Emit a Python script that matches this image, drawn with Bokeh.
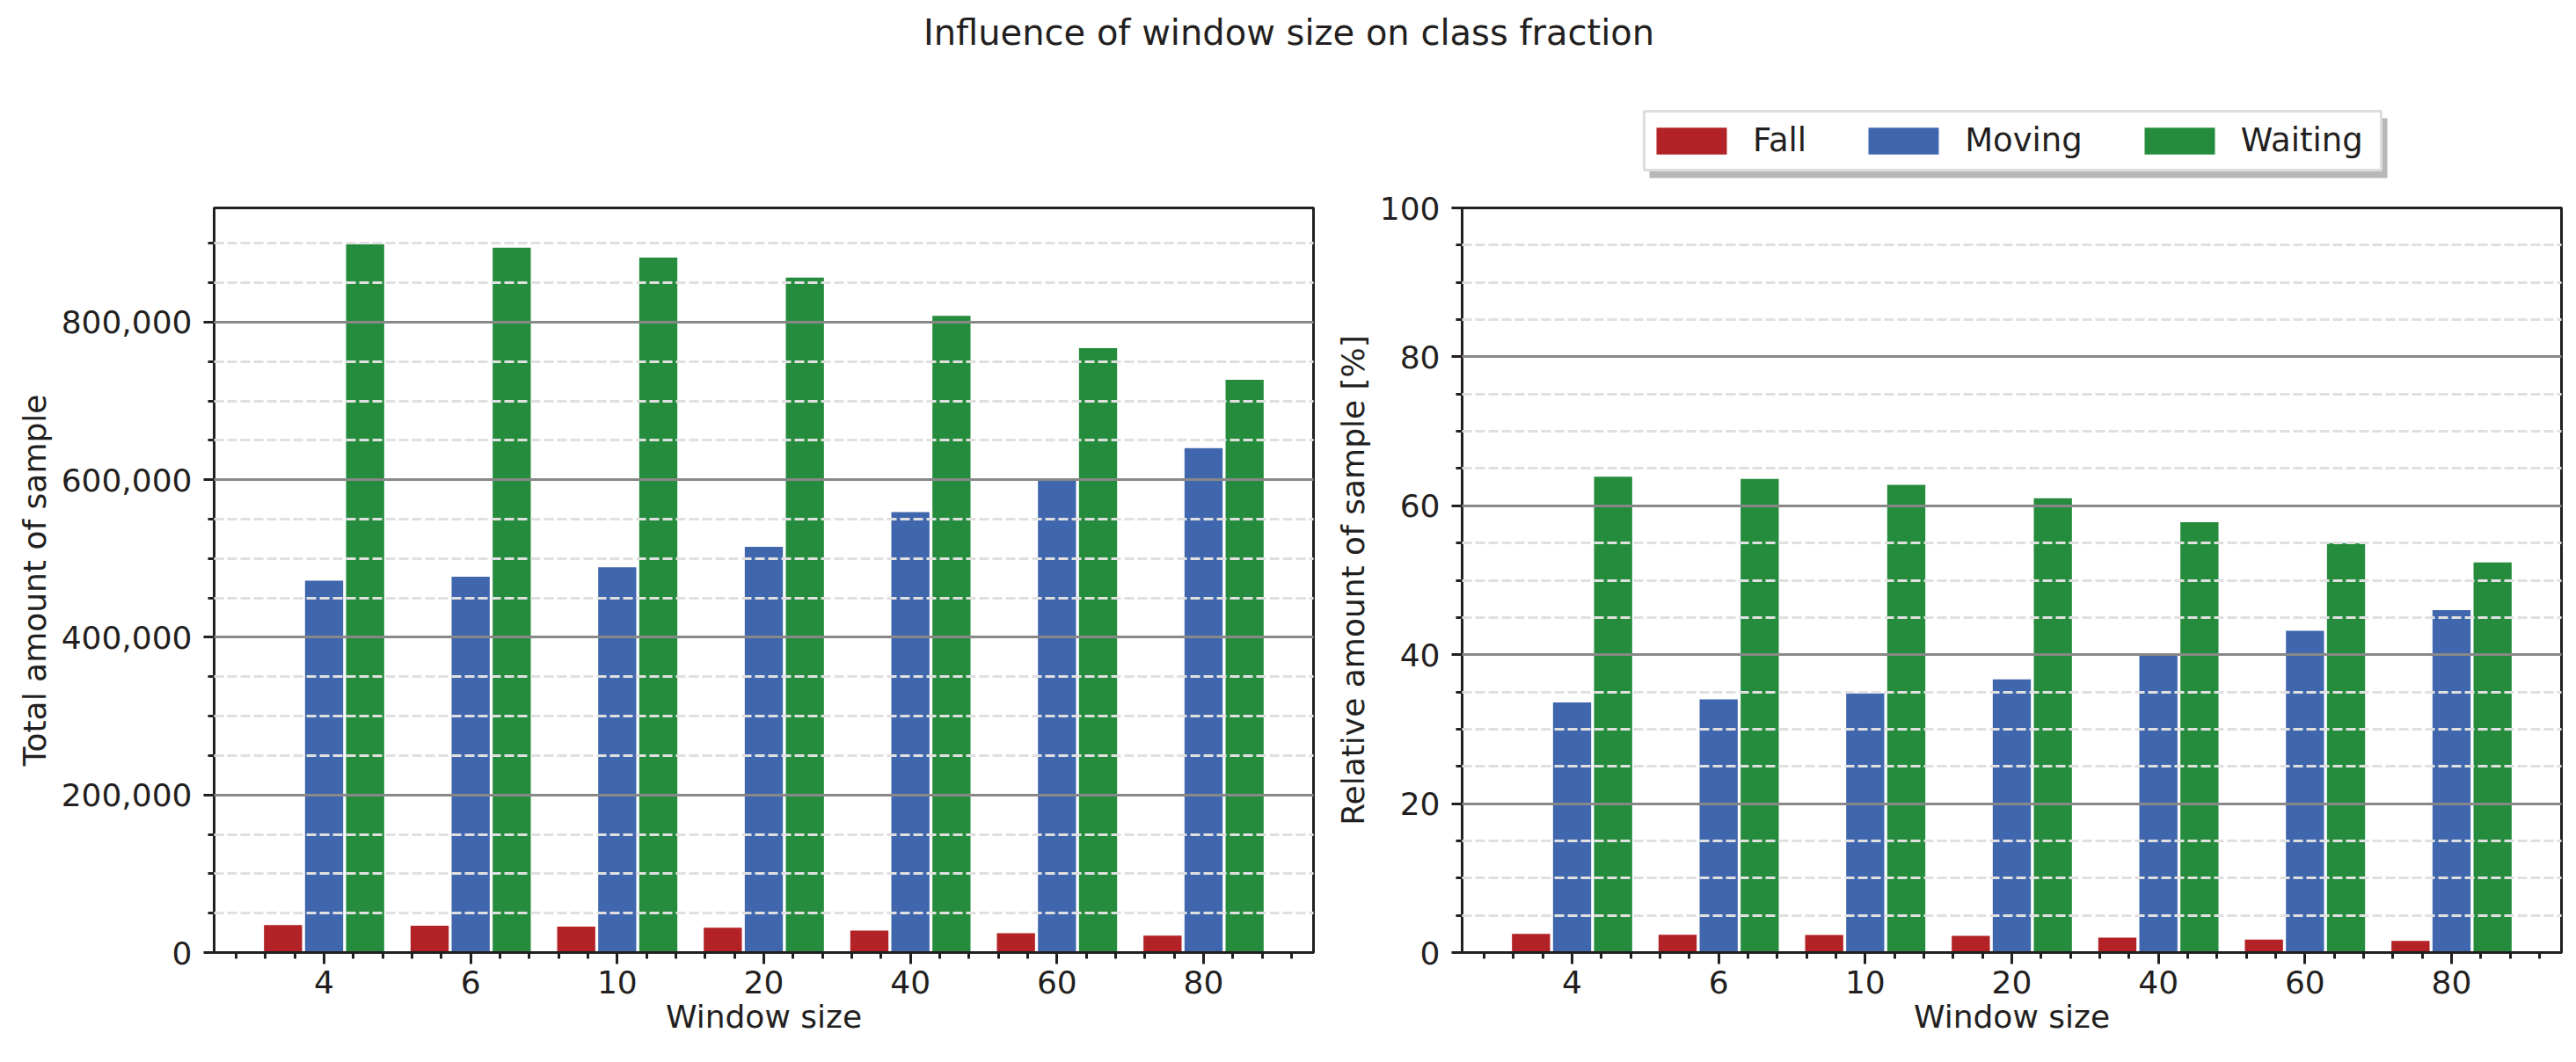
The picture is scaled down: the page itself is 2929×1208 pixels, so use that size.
from bokeh.plotting import figure
from bokeh.models import (Range1d, FixedTicker, NumeralTickFormatter, Legend, LegendItem,
                          Label, ColumnDataSource, BoxAnnotation)
from bokeh.transform import dodge
from bokeh.layouts import column, row
from bokeh.embed import file_html
from bokeh.resources import INLINE

# ---------------- data ----------------
window_sizes = ["4", "6", "10", "20", "40", "60", "80"]
classes = ["Fall", "Moving", "Waiting"]

fall_total = [35000, 34000, 33000, 31500, 28000, 24500, 21500]
moving_total = [472000, 477000, 489000, 515000, 559000, 602000, 640000]
waiting_total = [899000, 894500, 882000, 856500, 808000, 767000, 727000]

fall_pct = [2.5, 2.4, 2.35, 2.25, 2.0, 1.75, 1.55]
moving_pct = [33.6, 34.0, 34.8, 36.7, 39.9, 43.2, 46.0]
waiting_pct = [63.9, 63.6, 62.8, 61.0, 57.8, 55.0, 52.4]

title_text = "Influence of window size on class fraction"
x_label = "Window size"
y_label_left = "Total amount of sample"
y_label_right = "Relative amount of sample [%]"

# ---------------- styles ----------------
FONT = "DejaVu Sans"
TXT = "#231f20"
COLORS = {"Fall": "#b22226", "Moving": "#4067ae", "Waiting": "#268c3d"}
OFFSETS = {"Fall": -0.28, "Moving": 0.0, "Waiting": 0.28}
BAR_W = 0.26
TOP_H = 208

positions = list(range(len(window_sizes)))
x_minor = [round(k * 0.2, 2) for k in range(-3, 34) if k % 5 != 0]


def make_fig(vals, y_end, y_major, y_minor, grid_major, ylabel, formatter, left_b, right_b):
    p = figure(frame_width=1250, frame_height=847,
               min_border_left=left_b, min_border_right=right_b,
               min_border_top=236 - TOP_H, min_border_bottom=117,
               x_range=Range1d(-0.75, 6.75), y_range=Range1d(0, y_end),
               output_backend="svg", toolbar_location=None)
    src = ColumnDataSource(dict(x=positions, Fall=vals[0], Moving=vals[1], Waiting=vals[2]))
    rends = {}
    for c in classes:
        rends[c] = p.vbar(x=dodge("x", OFFSETS[c]), top=c, width=BAR_W, bottom=0,
                          source=src, fill_color=COLORS[c], line_color=None)

    p.xaxis.ticker = FixedTicker(ticks=positions, minor_ticks=x_minor)
    p.xaxis.major_label_overrides = {i: w for i, w in enumerate(window_sizes)}
    p.yaxis.ticker = FixedTicker(ticks=y_major, minor_ticks=y_minor)
    if formatter is not None:
        p.yaxis.formatter = formatter

    p.xgrid.visible = False
    p.ygrid.ticker = FixedTicker(ticks=grid_major, minor_ticks=y_minor)
    p.ygrid.grid_line_color = "#888888"
    p.ygrid.grid_line_width = 3
    p.ygrid.minor_grid_line_color = "#e0e0e0"
    p.ygrid.minor_grid_line_width = 3
    p.ygrid.minor_grid_line_dash = "11 4"
    p.ygrid.level = "overlay"

    for ax in p.axis:
        ax.axis_line_width = 3
        ax.axis_line_color = TXT
        ax.major_tick_line_width = 3
        ax.minor_tick_line_width = 3
        ax.major_tick_line_color = TXT
        ax.minor_tick_line_color = TXT
        ax.major_tick_in = 0
        ax.minor_tick_in = 0
        ax.minor_tick_out = 7
        ax.major_label_text_font = FONT
        ax.major_label_text_font_size = "36px"
        ax.major_label_text_color = TXT
        ax.axis_label_text_font = FONT
        ax.axis_label_text_font_size = "36px"
        ax.axis_label_text_font_style = "normal"
        ax.axis_label_text_color = TXT
    p.xaxis.major_tick_out = 13
    p.xaxis.major_label_standoff = 7
    p.xaxis.axis_label_standoff = 3
    p.xaxis.axis_label = x_label
    p.yaxis.major_tick_out = 12
    p.yaxis.major_label_standoff = 13
    p.yaxis.axis_label_standoff = 7
    p.yaxis.axis_label = ylabel

    p.outline_line_color = TXT
    p.outline_line_width = 3
    p.outline_line_alpha = 1
    p.background_fill_color = "white"
    p.border_fill_color = "white"
    return p, rends


left_minor = [k * 50000 for k in range(1, 19) if k % 4 != 0]
right_minor = [k * 5 for k in range(1, 20) if k % 4 != 0]

p1, r1 = make_fig([fall_total, moving_total, waiting_total], 945000,
                  [0, 200000, 400000, 600000, 800000], left_minor,
                  [200000, 400000, 600000, 800000], y_label_left,
                  NumeralTickFormatter(format="0,0"), 243, 12)

p2, r2 = make_fig([fall_pct, moving_pct, waiting_pct], 100,
                  [0, 20, 40, 60, 80, 100], right_minor,
                  [20, 40, 60, 80], y_label_right, None, 157, 9)

# ---------------- top strip: title + legend ----------------
pt = figure(width=1505 + 157 + 1250 + 9, height=TOP_H, min_border=0, title=None,
            x_range=Range1d(0, 1), y_range=Range1d(0, 1),
            x_axis_location=None, y_axis_location=None,
            output_backend="svg", toolbar_location=None)
pt.grid.visible = False
pt.outline_line_color = None
pt.background_fill_color = "white"
pt.border_fill_color = "white"

pt.add_layout(Label(x=1465, y=TOP_H - 53 + 17, x_units="screen", y_units="screen", text=title_text,
                    text_font=FONT, text_font_size="40px", text_color=TXT,
                    text_align="center", text_baseline="alphabetic"))

# legend swatch renderers: one zero-height mark each, placed outside the strip's visible range
swatches = {}
for c in classes:
    swatches[c] = pt.vbar(x=[-10.0], top=[0.0], bottom=[0.0], width=BAR_W,
                          fill_color=COLORS[c], line_color=None)


def screen_box(left, right, top, bottom, **kw):
    return BoxAnnotation(left=left, right=right, top=TOP_H - top, bottom=TOP_H - bottom,
                         left_units="screen", right_units="screen",
                         bottom_units="screen", top_units="screen", **kw)


# legend frame: shadow, then white box with light-grey border
pt.add_layout(screen_box(1875, 2714, 134, 202, fill_color="#b8b8b8", fill_alpha=1, line_color=None))
pt.add_layout(screen_box(1869, 2707, 126, 193, fill_color="white", fill_alpha=1,
                         line_color="#dcdcdc", line_width=3, line_alpha=1))

legend = Legend(items=[LegendItem(label=c, renderers=[swatches[c]]) for c in classes],
                location=(1861, TOP_H - 193), orientation="horizontal",
                glyph_width=100, glyph_height=38, label_standoff=20, spacing=60,
                padding=12, margin=0,
                label_text_font=FONT, label_text_font_size="37px", label_text_color=TXT,
                border_line_color="#dcdcdc", border_line_alpha=0,
                background_fill_color="white", background_fill_alpha=0)
pt.add_layout(legend)

layout = column(pt, row(p1, p2))
open("out.html", "w").write(file_html(layout, INLINE))
